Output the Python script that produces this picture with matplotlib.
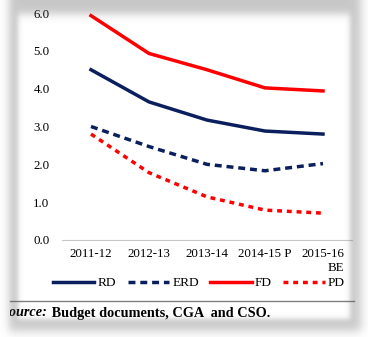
import numpy as np
from matplotlib import pyplot as plt
from matplotlib.transforms import Bbox

years = ["2011-12", "2012-13", "2013-14", "2014-15 P", "2015-16\nBE"]
rd = [4.5, 3.65, 3.17, 2.88, 2.8]
erd = [3.0, 2.47, 2.0, 1.83, 2.02]
fd = [5.93, 4.93, 4.5, 4.02, 3.94]
pd_ = [2.8, 1.78, 1.14, 0.79, 0.71]

navy = "#0B1F5E"
red = "#FF0000"

plt.rcParams['font.family'] = ['Liberation Serif', 'DejaVu Serif']
fs = 9.3

W, H = 368, 337
fig = plt.figure(figsize=(W / 100, H / 100), dpi=100)
ax = fig.add_axes([62 / W, 1 - 240 / H, 290 / W, 227 / H])
ax.patch.set_alpha(0)

x = np.arange(len(years))
ax.plot(x, rd, color=navy, lw=2.5, label="RD")
ax.plot(x, erd, color=navy, lw=2.5, dashes=(2.0, 1.4), label="ERD")
ax.plot(x, fd, color=red, lw=2.5, label="FD")
ax.plot(x, pd_, color=red, lw=2.5, dashes=(1.4, 1.4), label="PD")

ax.set_xlim(-0.5, len(years) - 0.5)
ax.set_ylim(0, 6)
ax.set_yticks(np.arange(0, 6.1, 1.0))
ax.set_yticklabels([f"{v:.1f}" for v in np.arange(0, 6.1, 1.0)], fontsize=fs)
ax.set_xticks(x)
ax.set_xticklabels(years, fontsize=fs, multialignment='right')
ax.tick_params(axis='both', length=0)
ax.tick_params(axis='y', pad=9)
ax.tick_params(axis='x', pad=6)
for s in ['top', 'right', 'left']:
    ax.spines[s].set_visible(False)
ax.spines['bottom'].set_color('#C8C8C8')
ax.spines['bottom'].set_linewidth(0.8)

fig.legend(loc='center', bbox_to_anchor=(199 / W, 1 - 283 / H), ncol=4,
           frameon=False, fontsize=9.6, handlelength=3.1, handletextpad=0.25,
           columnspacing=0.85)

# separator and source note
fig.add_artist(plt.Line2D([10 / W, 354 / W], [1 - 301 / H, 1 - 301 / H],
                          color='#808080', lw=1))
sfs = 10.3
clip = Bbox([[10, 0], [W, H]])
t1 = fig.text(2 / W, 1 - 313 / H, "Source:", fontsize=sfs, fontweight='bold',
              style='italic', va='center', clip_on=True)
t1.set_clip_box(clip)
ax.annotate(" Budget documents, CGA  and CSO.", xy=(1, 0.5), xycoords=t1,
            va='center', ha='left', fontsize=sfs, fontweight='bold',
            annotation_clip=False)

# soft shadow frame
def sig(v, w):
    return 1 / (1 + np.exp(-v / w))

xx, yy = np.meshgrid(np.arange(W) + 0.5, np.arange(H) + 0.5)
sh = sig(xx - 9, 2.5) * sig(361 - xx, 3) * sig(yy + 20, 3) * sig(331 - yy, 3)
box = sig(xx - 18, 1.5) * sig(350 - xx, 1.5) * sig(yy - 14, 2.5) * sig(319 - yy, 1.5)
alpha = np.clip(0.34 * sh * (1 - box), 0, 1)
rgba = np.zeros((H, W, 4))
rgba[..., :3] = 0.35
rgba[..., 3] = alpha
fig.figimage(rgba[::-1], xo=0, yo=0, zorder=10, origin='lower')

fig.savefig("out.png", dpi=100)
